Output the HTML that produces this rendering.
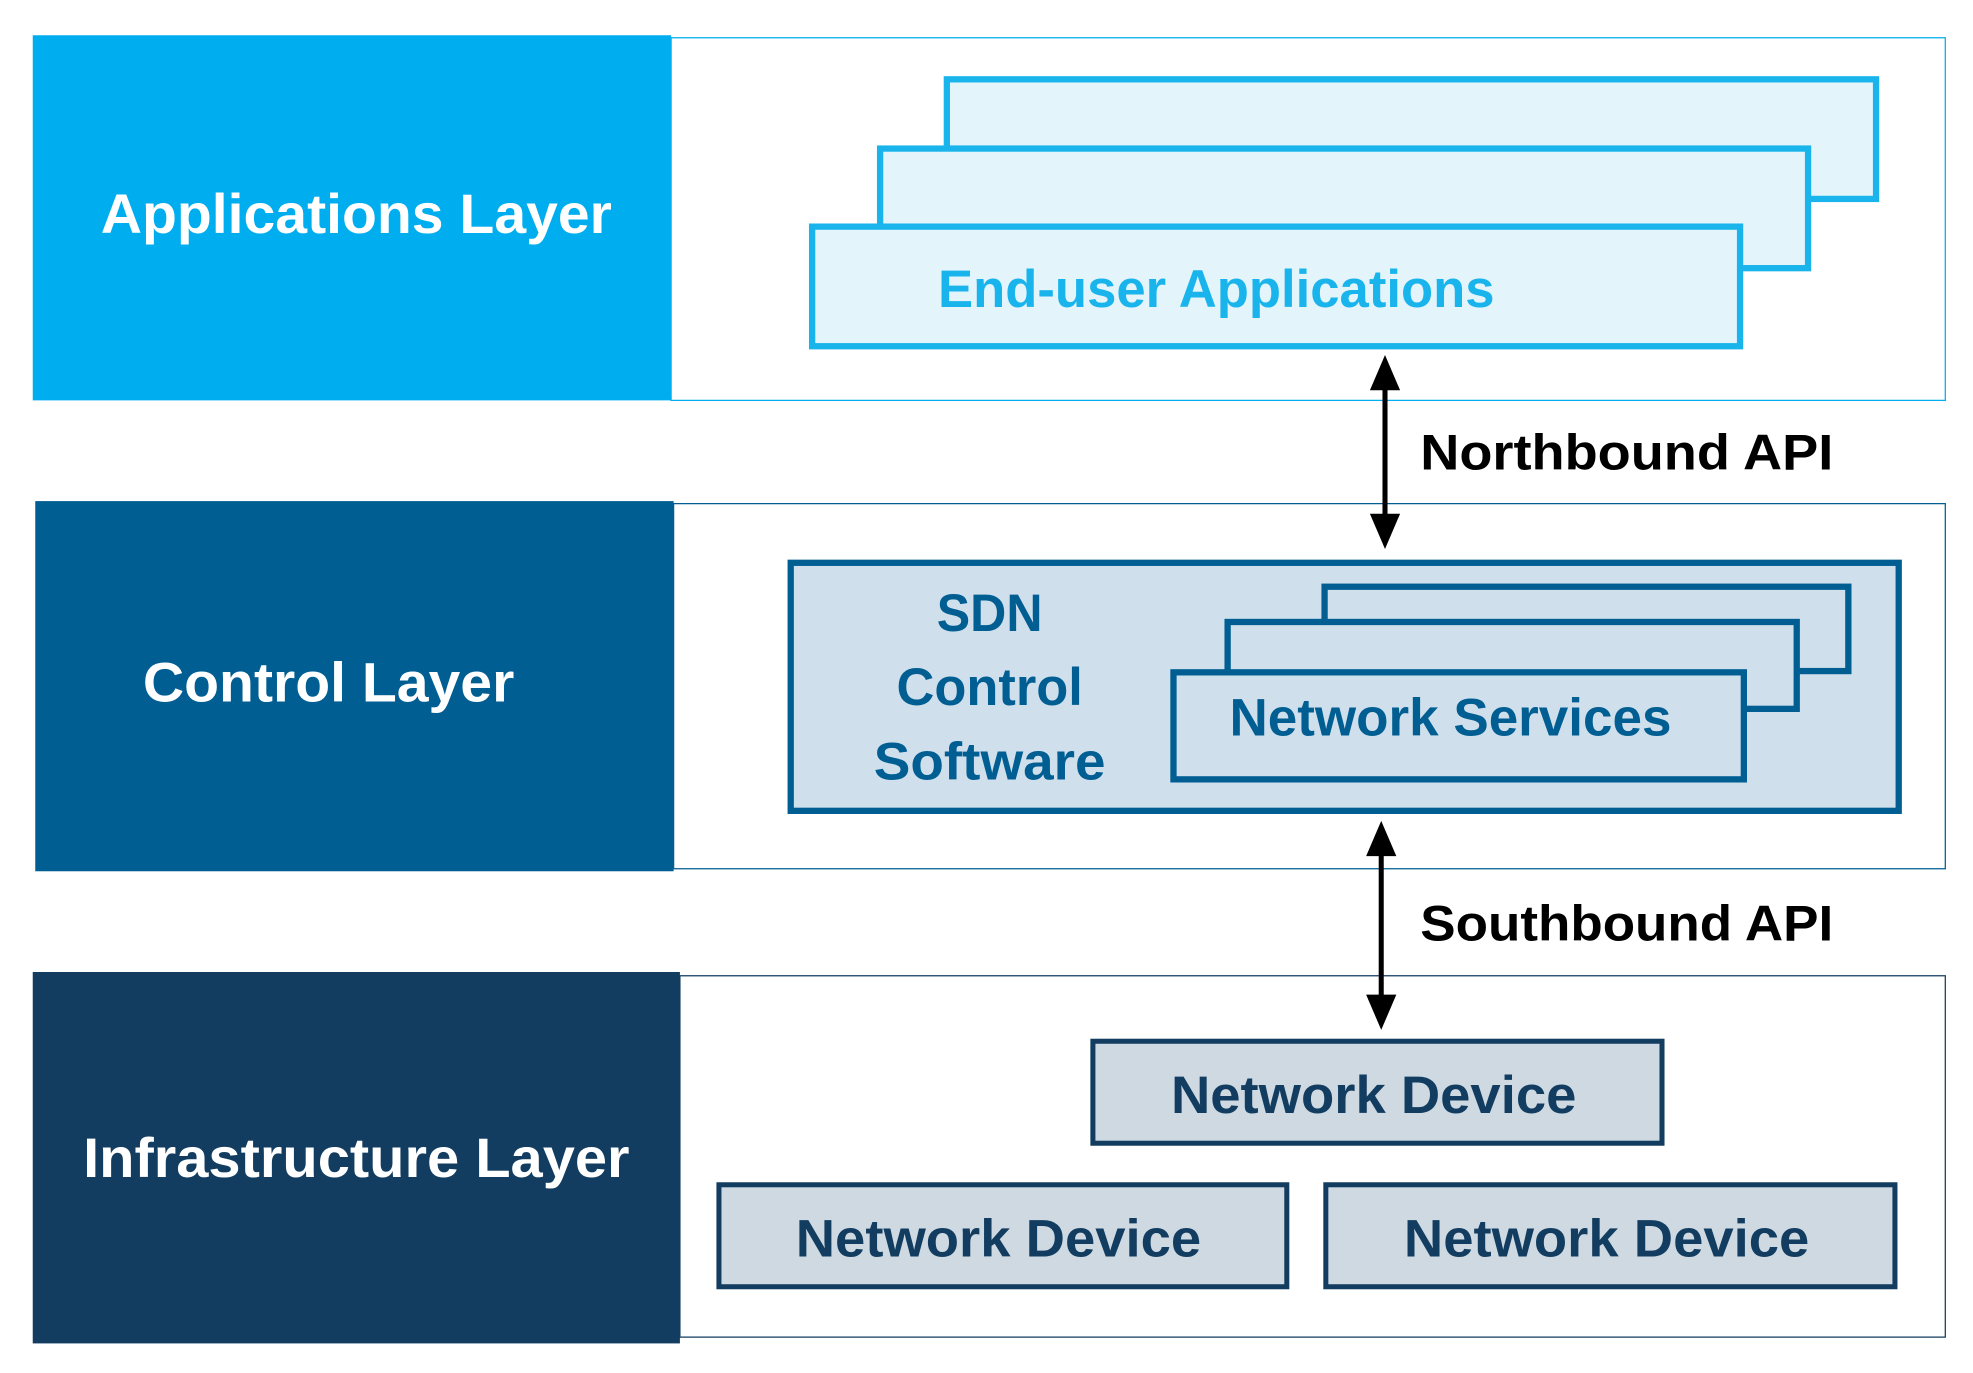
<!DOCTYPE html>
<html><head><meta charset="utf-8"><style>html,body{margin:0;padding:0;background:#fff;}svg{display:block}</style></head>
<body>
<svg width="1973" height="1373" viewBox="0 0 1567 1090.5" preserveAspectRatio="none" xmlns="http://www.w3.org/2000/svg" font-family="Liberation Sans, sans-serif" font-weight="bold">
<!-- Applications layer -->
<rect x="533" y="30" width="1012" height="288" fill="#fff" stroke="#00AEEF" stroke-width="1"/>
<rect x="26" y="28" width="507" height="290" fill="#00AEEF"/>
<text x="283" y="185" font-size="44" fill="#fff" text-anchor="middle" textLength="406" lengthAdjust="spacingAndGlyphs">Applications Layer</text>
<rect x="752" y="63" width="738" height="95" fill="#E3F4FB" stroke="#1AB4EC" stroke-width="5"/>
<rect x="699" y="118" width="737" height="95" fill="#E3F4FB" stroke="#1AB4EC" stroke-width="5"/>
<rect x="645" y="180" width="737" height="95" fill="#E3F4FB" stroke="#1AB4EC" stroke-width="5"/>
<text x="966" y="244" font-size="42" fill="#1AB4EC" text-anchor="middle" textLength="442" lengthAdjust="spacingAndGlyphs">End-user Applications</text>
<!-- Control layer -->
<rect x="535" y="400" width="1010" height="290" fill="#fff" stroke="#005E93" stroke-width="1"/>
<rect x="28" y="398" width="507" height="294" fill="#005E93"/>
<text x="261" y="557" font-size="44" fill="#fff" text-anchor="middle" textLength="295" lengthAdjust="spacingAndGlyphs">Control Layer</text>
<rect x="628" y="447" width="880" height="197" fill="#CFE0EC" stroke="#005E93" stroke-width="5"/>
<text x="786" y="501" font-size="42" fill="#005E93" text-anchor="middle" textLength="84" lengthAdjust="spacingAndGlyphs">SDN</text>
<text x="786" y="560" font-size="42" fill="#005E93" text-anchor="middle" textLength="148" lengthAdjust="spacingAndGlyphs">Control</text>
<text x="786" y="619" font-size="42" fill="#005E93" text-anchor="middle" textLength="184" lengthAdjust="spacingAndGlyphs">Software</text>
<rect x="1052" y="466" width="416" height="67" fill="#CFE0EC" stroke="#005E93" stroke-width="5"/>
<rect x="975" y="494" width="452" height="69" fill="#CFE0EC" stroke="#005E93" stroke-width="5"/>
<rect x="932" y="534" width="453" height="85" fill="#CFE0EC" stroke="#005E93" stroke-width="5"/>
<text x="1152" y="584" font-size="42" fill="#005E93" text-anchor="middle" textLength="351" lengthAdjust="spacingAndGlyphs">Network Services</text>
<!-- Infrastructure layer -->
<rect x="540" y="775" width="1005" height="287" fill="#fff" stroke="#123D60" stroke-width="1"/>
<rect x="26" y="772" width="514" height="295" fill="#123D60"/>
<text x="283" y="935" font-size="44" fill="#fff" text-anchor="middle" textLength="434" lengthAdjust="spacingAndGlyphs">Infrastructure Layer</text>
<rect x="868" y="827" width="452" height="81" fill="#CFD9E2" stroke="#123D60" stroke-width="4"/>
<text x="1091" y="884" font-size="42" fill="#123D60" text-anchor="middle" textLength="322" lengthAdjust="spacingAndGlyphs">Network Device</text>
<rect x="571" y="941" width="451" height="81" fill="#CFD9E2" stroke="#123D60" stroke-width="4"/>
<text x="793" y="998" font-size="42" fill="#123D60" text-anchor="middle" textLength="322" lengthAdjust="spacingAndGlyphs">Network Device</text>
<rect x="1053" y="941" width="452" height="81" fill="#CFD9E2" stroke="#123D60" stroke-width="4"/>
<text x="1276" y="998" font-size="42" fill="#123D60" text-anchor="middle" textLength="322" lengthAdjust="spacingAndGlyphs">Network Device</text>
<!-- Northbound arrow -->
<line x1="1100" y1="305" x2="1100" y2="412" stroke="#000" stroke-width="4"/>
<polygon points="1100,282 1088,310 1112,310" fill="#000"/>
<polygon points="1100,436 1088,408 1112,408" fill="#000"/>
<text x="1128" y="373" font-size="40" fill="#000" textLength="328" lengthAdjust="spacingAndGlyphs">Northbound API</text>
<!-- Southbound arrow -->
<line x1="1097" y1="675" x2="1097" y2="795" stroke="#000" stroke-width="4"/>
<polygon points="1097,652 1085,680 1109,680" fill="#000"/>
<polygon points="1097,818 1085,790 1109,790" fill="#000"/>
<text x="1128" y="747" font-size="40" fill="#000" textLength="328" lengthAdjust="spacingAndGlyphs">Southbound API</text>
</svg>
</body></html>
